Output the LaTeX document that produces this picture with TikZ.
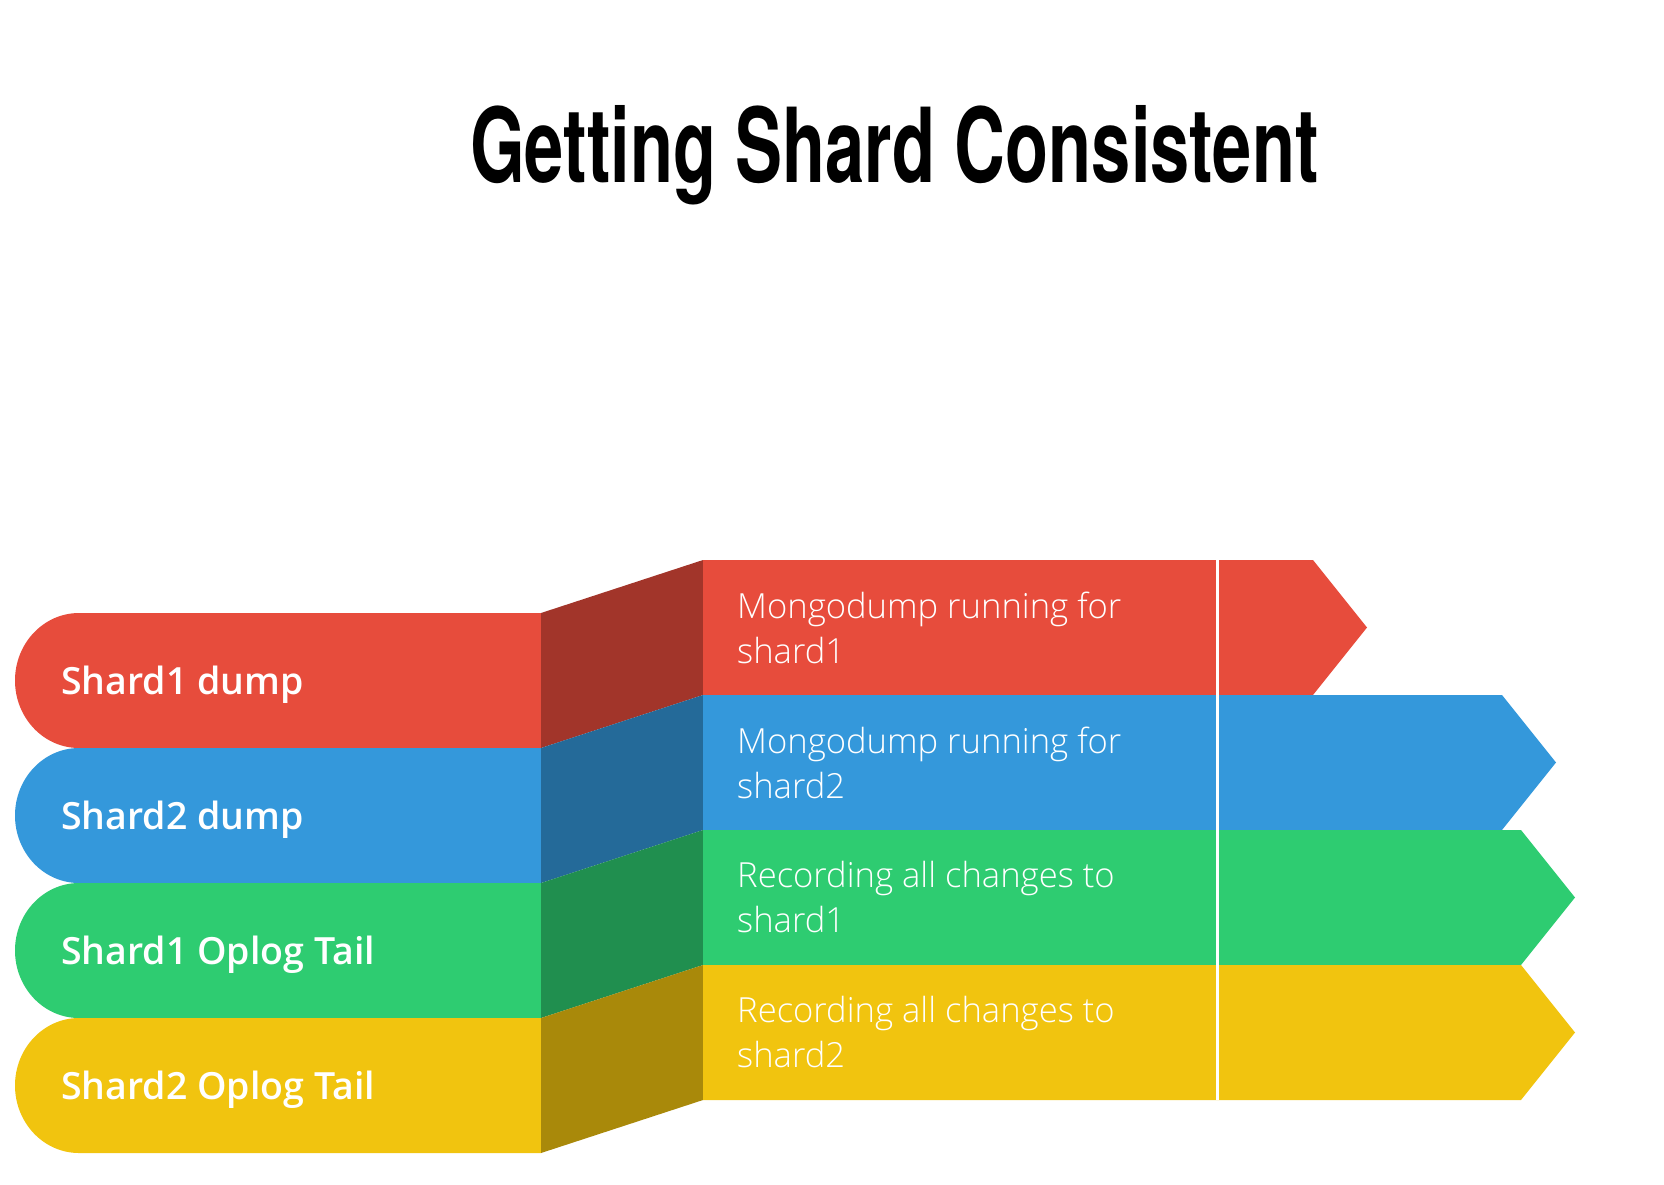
\documentclass[tikz,border=0pt]{standalone}
\usepackage{fontspec}
\usepackage{graphicx}
\usepackage{tikz}
\usepackage{xcolor}
\setmainfont{Open Sans}
\newfontfamily\titlefont{TeX Gyre Heros}
\newfontfamily\lightfont{Open Sans Light}
\newfontfamily\semifont{Open Sans Semibold}
\definecolor{RedSC}{HTML}{E74C3C}
\definecolor{DarkRedSC}{HTML}{A2352A}
\definecolor{BlueSC}{HTML}{3498DB}
\definecolor{DarkBlueSC}{HTML}{246A99}
\definecolor{GreenSC}{HTML}{2ECC71}
\definecolor{DarkGreenSC}{HTML}{208F4F}
\definecolor{YellowSC}{HTML}{F1C40F}
\definecolor{DarkYellowSC}{HTML}{A9890A}
\newcommand\txtdumpa{Mongodump running for\\shard1}
\newcommand\txtdumpb{Mongodump running for\\shard2}
\newcommand\txtoploga{Recording all changes to\\shard1}
\newcommand\txtoplogb{Recording all changes to\\shard2}
\tikzstyle{labelstyle} = [anchor=base west, inner sep=0pt, text=white, font=\semifont\fontsize{37.5}{46}\selectfont]
\tikzstyle{textstyle} = [anchor=west, inner sep=0pt, align=left, text=white, font=\lightfont\fontsize{34.6}{45}\selectfont]

\begin{document}
\begin{tikzpicture}[x=1pt, y=-1pt]
\useasboundingbox (0,0) rectangle (1664,1184);
\node[anchor=base west, inner sep=0pt] (title) at (470,182) {\resizebox{848pt}{77pt}{\titlefont\bfseries Getting Shard Consistent}};
\foreach \k/\col/\dark/\lbl/\txt/\flat in {0/RedSC/DarkRedSC/{Shard1 dump}/\txtdumpa/1313, 1/BlueSC/DarkBlueSC/{Shard2 dump}/\txtdumpb/1502, 2/GreenSC/DarkGreenSC/{Shard1 Oplog Tail}/\txtoploga/1521, 3/YellowSC/DarkYellowSC/{Shard2 Oplog Tail}/\txtoplogb/1521}{
\begin{scope}[yshift={-\k*135pt}]
\fill[\col] (79,613) -- (541,613) -- (541,748) -- (79,748) arc[start angle=270, end angle=90, x radius=64pt, y radius=67.5pt] -- cycle;
\fill[\dark] (541,613) -- (703,560) -- (703,695) -- (541,748) -- cycle;
\fill[\col] (703,560) -- (\flat,560) -- (\flat+54,627.5) -- (\flat,695) -- (703,695) -- cycle;
\node[labelstyle] (lbl\k) at (61,694) {\lbl};
\node[textstyle] (txt\k) at (737,627.5) {\txt};
\end{scope}
}
\fill[white] (1216,560) rectangle (1219,1100);
\end{tikzpicture}
\end{document}
